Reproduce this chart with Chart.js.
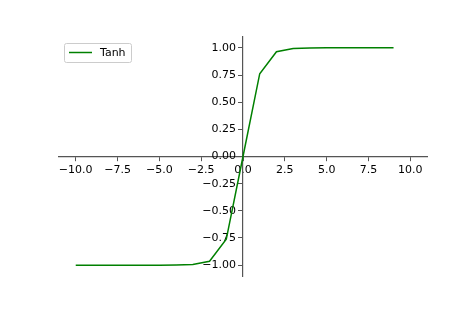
<!DOCTYPE html>
<html>
<head>
<meta charset="utf-8">
<script src="https://cdn.jsdelivr.net/npm/chart.js@4/dist/chart.umd.min.js"></script>
<style>
    html, body { margin: 0; padding: 0; background: #fff; }
    #wrap { width: 474px; height: 316px; }
</style>
</head>
<body>
<div id="wrap"><canvas id="c"></canvas></div>
<script>
const xs = [-10, -9, -8, -7, -6, -5, -4, -3, -2, -1, 0, 1, 2, 3, 4, 5, 6, 7, 8, 9];
const ys = [-1.000, -1.000, -1.000, -1.000, -1.000, -1.000, -0.999, -0.995, -0.964, -0.762,
            0.000, 0.762, 0.964, 0.995, 0.999, 1.000, 1.000, 1.000, 1.000, 1.000];
const xTicks = [-10, -7.5, -5, -2.5, 0, 2.5, 5, 7.5, 10];
const yTicks = [-1, -0.75, -0.5, -0.25, 0, 0.25, 0.5, 0.75, 1];
const seriesName = 'Tanh';

const FONT = { family: 'DejaVu Sans', size: 11 };

function fmt(v, d) {
    const s = Math.abs(v).toFixed(d);
    return v < 0 ? '\u2212' + s : s;
}

// a y axis placed at x=0 gets its labels right on the spine, push them left of the ticks
class CenterLinear extends Chart.LinearScale {
    _computeLabelItems(area) {
        const items = super._computeLabelItems(area);
        if (this.axis === 'y') {
            const shift = this.options.grid.tickLength + this.options.ticks.padding;
            items.forEach(it => { it.options.translation[0] -= shift; });
        }
        return items;
    }
}
CenterLinear.id = 'centerLinear';
CenterLinear.defaults = Chart.LinearScale.defaults;
Chart.register(CenterLinear);

// matplotlib style legend box in the upper left corner
const legendBox = {
    id: 'legendBox',
    afterDraw(chart) {
        const ctx = chart.ctx;
        const ds = chart.data.datasets[0];
        ctx.save();
        ctx.fillStyle = 'rgba(255,255,255,0.8)';
        ctx.strokeStyle = '#cccccc';
        ctx.lineWidth = 1;
        ctx.beginPath();
        ctx.roundRect(64.5, 43.5, 67, 19, 2);
        ctx.fill();
        ctx.stroke();
        ctx.strokeStyle = ds.borderColor;
        ctx.lineWidth = 1.5;
        ctx.beginPath();
        ctx.moveTo(69, 52.5);
        ctx.lineTo(92, 52.5);
        ctx.stroke();
        ctx.fillStyle = '#000';
        ctx.font = FONT.size + 'px ' + FONT.family;
        ctx.textBaseline = 'middle';
        ctx.fillText(ds.label, 100, 53);
        ctx.restore();
    }
};

const ctx = document.getElementById('c').getContext('2d');
new Chart(ctx, {
    type: 'scatter',
    data: {
        datasets: [{
            label: seriesName,
            data: xs.map((x, i) => ({ x: x, y: ys[i] })),
            showLine: true,
            borderColor: '#008000',
            backgroundColor: '#008000',
            borderWidth: 1.5,
            pointRadius: 0,
            tension: 0
        }]
    },
    options: {
        responsive: true,
        maintainAspectRatio: false,
        animation: false,
        events: [],
        layout: { padding: { left: 59, right: 47, top: 37, bottom: 40 } },
        plugins: {
            legend: { display: false },
            tooltip: { enabled: false }
        },
        scales: {
            x: {
                type: 'centerLinear',
                min: -11,
                max: 11,
                position: { y: 0 },
                afterFit: s => { s.height = 0; },
                afterBuildTicks: s => { s.ticks = xTicks.map(v => ({ value: v })); },
                border: { display: true, color: '#555', width: 1.2 },
                grid: { drawOnChartArea: false, drawTicks: true, tickLength: 4, tickColor: '#555' },
                ticks: {
                    autoSkip: false,
                    maxRotation: 0,
                    padding: 3,
                    color: '#000',
                    font: FONT,
                    callback: v => fmt(v, 1)
                }
            },
            y: {
                type: 'centerLinear',
                min: -1.1,
                max: 1.1,
                position: { x: 0 },
                afterFit: s => { s.width = 0; },
                afterBuildTicks: s => { s.ticks = yTicks.map(v => ({ value: v })); },
                border: { display: true, color: '#555', width: 1.2 },
                grid: { drawOnChartArea: false, drawTicks: true, tickLength: 4, tickColor: '#555' },
                ticks: {
                    autoSkip: false,
                    padding: 3,
                    color: '#000',
                    font: FONT,
                    callback: v => fmt(v, 2)
                }
            }
        }
    },
    plugins: [legendBox]
});
</script>
</body>
</html>
